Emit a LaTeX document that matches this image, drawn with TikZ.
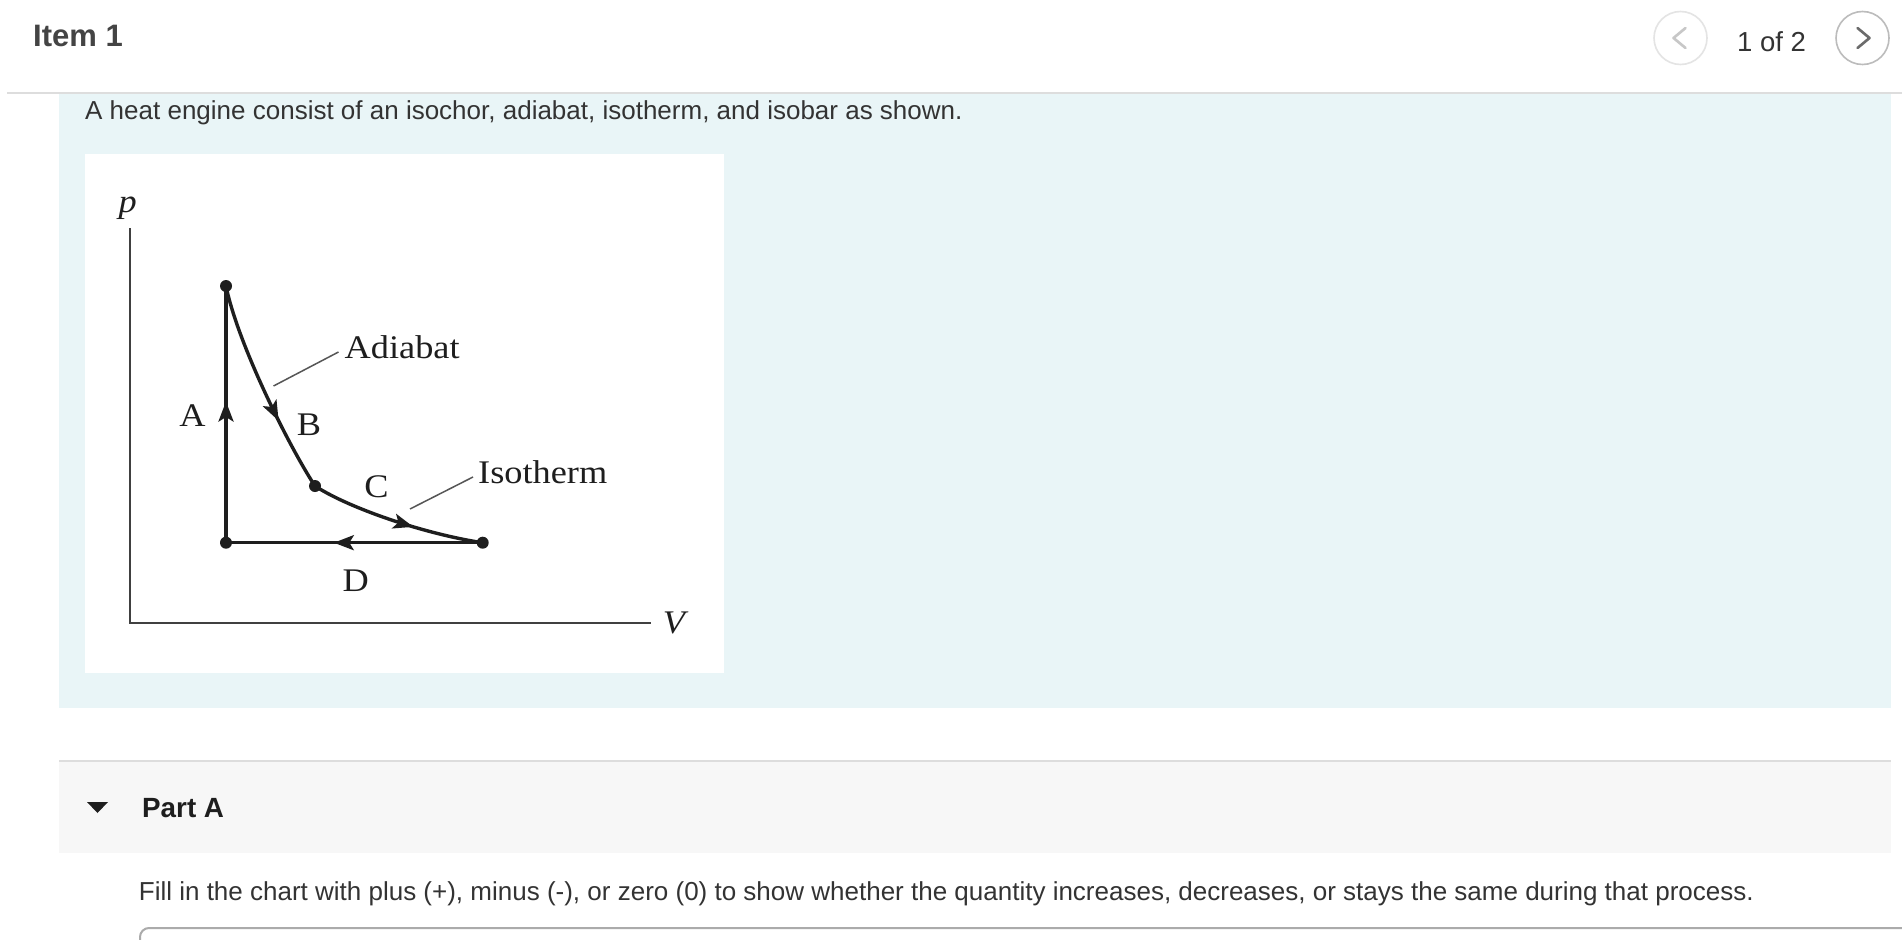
\documentclass[tikz,border=0pt]{standalone}
\usepackage{fontspec}
\setmainfont{Liberation Sans}
\newfontfamily\figfont[FakeStretch=1.1]{Liberation Serif}
\usetikzlibrary{arrows.meta,decorations.markings}
\definecolor{panel}{HTML}{E9F5F7}
\definecolor{band}{HTML}{F7F7F7}
\definecolor{rulec}{HTML}{DDDDDD}
\definecolor{txt}{HTML}{333333}
\definecolor{titlec}{HTML}{444444}
\definecolor{ink}{HTML}{1E1E1E}
\definecolor{boxline}{HTML}{ABABAB}
\tikzset{
  sans/.style={inner sep=0pt, text=txt, font=\fontsize{26}{30}\selectfont},
  lbl/.style={inner sep=0pt, text=ink, font=\figfont\fontsize{33}{36}\selectfont},
  dotnode/.style={circle, fill=ink, inner sep=0pt, minimum size=12pt},
  curve/.style={draw=ink, line width=3.4pt, line join=round},
  axis/.style={draw=ink!85, line width=2pt},
  leader/.style={draw=ink!75, line width=1.5pt},
  midarrow/.style={postaction={decorate},
    decoration={markings, mark=at position #1 with {\arrow{Stealth[length=20pt,width=15pt,inset=4.5pt]}}}},
  navcircle/.style={circle, draw, line width=1.6pt, minimum size=53pt, inner sep=0pt},
  chevron/.style={line width=2.6pt, line cap=round, line join=round}
}
\begin{document}
\begin{tikzpicture}[x=1pt,y=-1pt]
\useasboundingbox (0,0) rectangle (1902,939);
\fill[white] (0,0) rectangle (1902,939);

% header
\node[inner sep=0pt, anchor=base west, text=titlec, font=\bfseries\fontsize{31}{36}\selectfont] (item) at (33,46.7) {Item 1};
\node[navcircle, draw=rulec!80!white] (prev) at (1680.5,38) {};
\node[navcircle, draw=boxline!80!white] (next) at (1862.5,38) {};
\draw[chevron, draw=black!22] ([shift={(5,-10)}]prev.center) -- ([shift={(-7,0)}]prev.center) -- ([shift={(5,10)}]prev.center);
\draw[chevron, draw=black!58] ([shift={(-5,-10)}]next.center) -- ([shift={(7,0)}]next.center) -- ([shift={(-5,10)}]next.center);
\node[sans, anchor=base, font=\fontsize{27.5}{30}\selectfont] (count) at (1771.5,51.7) {1 of 2};
\draw[rulec, line width=2pt] (7,93) -- (1902,93);

% question panel
\fill[panel] (59,94) rectangle (1891,707.7);
\node[sans, anchor=base west] (q) at (85,120) {A heat engine consist of an isochor, adiabat, isotherm, and isobar as shown.};
\fill[white] (85,154) rectangle (724,673);

% axes
\coordinate (ytop) at (130,228);
\coordinate (orig) at (130,622.6);
\coordinate (xend) at (651,622.6);
\draw[axis] (ytop) -- (orig) -- (xend);
\node[lbl, anchor=base, font=\figfont\itshape\fontsize{33}{36}\selectfont] (plab) at (127.7,212) {p};
\node[lbl, anchor=base, font=\figfont\itshape\fontsize{33}{36}\selectfont] (vlab) at (674,633.4) {V};

% states
\node[dotnode] (s1) at (226,286) {};
\node[dotnode] (s2) at (315,486) {};
\node[dotnode] (s3) at (482.7,542.7) {};
\node[dotnode] (s4) at (226,542.7) {};

% processes
\draw[curve, midarrow=0.55] (s4.center) -- (s1.center);
\draw[curve, midarrow=0.66] (s1.center) .. controls (238,345) and (290,448) .. (s2.center);
\draw[curve, midarrow=0.6] (s2.center) .. controls (352,510) and (430,535) .. (s3.center);
\draw[curve, midarrow=0.58] (s3.center) -- (s4.center);

% process labels
\node[lbl, anchor=base] (la) at (192.5,426.7) {A};
\node[lbl, anchor=base] (lb) at (309,435.7) {B};
\node[lbl, anchor=base] (lc) at (376.5,497) {C};
\node[lbl, anchor=base] (ld) at (355.7,591) {D};

% callouts
\node[lbl, anchor=base west] (adiabat) at (344.5,358) {Adiabat};
\node[lbl, anchor=base west] (isotherm) at (478,483) {Isotherm};
\coordinate (adl) at (273.5,386);
\coordinate (isl) at (410,509);
\draw[leader] (adl) -- ([shift={(-6,-6)}]adiabat.base west);
\draw[leader] (isl) -- ([shift={(-5,-6)}]isotherm.base west);

% Part A band
\fill[band] (59,761) rectangle (1891,853);
\draw[rulec, line width=2pt] (59,761) -- (1891,761);
\fill[ink] (87,802) -- (108,802) -- (97.5,813) -- cycle;
\node[inner sep=0pt, anchor=base west, text=ink, font=\bfseries\fontsize{27.8}{32}\selectfont] (parta) at (142,817.7) {Part A};

\node[sans, anchor=base west] (fill) at (138.7,900.7) {Fill in the chart with plus (+), minus (-), or zero (0) to show whether the quantity increases, decreases, or stays the same during that process.};
\draw[boxline, line width=2pt, rounded corners=9pt] (140,960) -- (140,928) -- (1910,928);
\end{tikzpicture}
\end{document}
